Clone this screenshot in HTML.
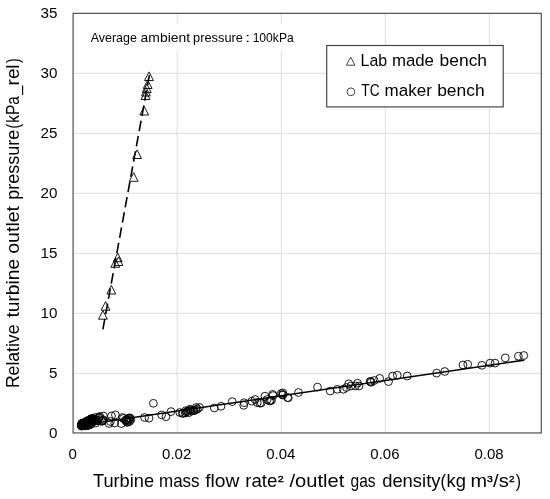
<!DOCTYPE html>
<html lang="en"><head><meta charset="utf-8"><title>Turbine outlet pressure chart</title>
<style>html,body{margin:0;padding:0;background:#fff;overflow:hidden}svg{display:block}text{font-family:"Liberation Sans",sans-serif;fill:#000}</style></head><body>
<svg width="550" height="499" viewBox="0 0 550 499">
<rect x="0" y="0" width="550" height="499" fill="#ffffff"/>
<path d="M177.2 13.35 V433.0 M281.3 13.35 V433.0 M385.4 13.35 V433.0 M489.5 13.35 V433.0 M73.1 373.3 H541.3 M73.1 313.3 H541.3 M73.1 253.3 H541.3 M73.1 193.3 H541.3 M73.1 133.3 H541.3 M73.1 73.3 H541.3" stroke="#dedede" stroke-width="1" fill="none"/>
<line x1="102.9" y1="329.3" x2="149.6" y2="74" stroke="#000" stroke-width="1.6" stroke-dasharray="10.5 5"/>
<line x1="80.5" y1="425.2" x2="524.3" y2="360.1" stroke="#000" stroke-width="1.6"/>
<path d="M149.0 71.9 L153.4 80.5 H144.6 Z M147.7 79.9 L152.1 88.5 H143.3 Z M146.8 83.9 L151.2 92.5 H142.4 Z M146.0 87.4 L150.4 96.0 H141.6 Z M145.5 90.9 L149.9 99.5 H141.1 Z M144.2 106.4 L148.6 115.0 H139.8 Z M137.1 149.9 L141.5 158.5 H132.7 Z M133.7 172.7 L138.1 181.3 H129.3 Z M117.7 253.1 L122.1 261.7 H113.3 Z M118.5 256.9 L122.9 265.5 H114.1 Z M115.3 258.7 L119.7 267.3 H110.9 Z M111.3 285.4 L115.7 294.0 H106.9 Z M105.6 301.6 L110.0 310.2 H101.2 Z M102.9 310.6 L107.3 319.2 H98.5 Z" stroke="#000" stroke-width="0.9" fill="none" stroke-linejoin="miter"/>
<g stroke="#000" stroke-width="0.9" fill="none"><circle cx="84.4" cy="422.5" r="3.9"/><circle cx="87.8" cy="420.5" r="3.9"/><circle cx="86.6" cy="422.6" r="3.9"/><circle cx="81.6" cy="425.1" r="3.9"/><circle cx="81.4" cy="424.9" r="3.9"/><circle cx="81.7" cy="423.5" r="3.9"/><circle cx="85.5" cy="425.3" r="3.9"/><circle cx="82.3" cy="423.7" r="3.9"/><circle cx="87.6" cy="425.4" r="3.9"/><circle cx="87.1" cy="422.6" r="3.9"/><circle cx="91.3" cy="418.7" r="3.9"/><circle cx="90.0" cy="420.8" r="3.9"/><circle cx="82.5" cy="423.2" r="3.9"/><circle cx="84.2" cy="425.6" r="3.9"/><circle cx="82.9" cy="425.0" r="3.9"/><circle cx="87.7" cy="422.2" r="3.9"/><circle cx="86.8" cy="421.0" r="3.9"/><circle cx="81.6" cy="424.0" r="3.9"/><circle cx="88.1" cy="422.3" r="3.9"/><circle cx="84.3" cy="424.5" r="3.9"/><circle cx="85.8" cy="422.6" r="3.9"/><circle cx="89.3" cy="423.5" r="3.9"/><circle cx="83.6" cy="424.7" r="3.9"/><circle cx="86.5" cy="425.2" r="3.9"/><circle cx="88.7" cy="421.3" r="3.9"/><circle cx="91.3" cy="419.1" r="3.9"/><circle cx="85.4" cy="425.0" r="3.9"/><circle cx="82.6" cy="424.7" r="3.9"/><circle cx="81.4" cy="425.8" r="3.9"/><circle cx="89.0" cy="422.8" r="3.9"/><circle cx="90.2" cy="420.8" r="3.9"/><circle cx="88.3" cy="423.2" r="3.9"/><circle cx="87.1" cy="422.9" r="3.9"/><circle cx="89.8" cy="424.8" r="3.9"/><circle cx="86.0" cy="424.3" r="3.9"/><circle cx="81.6" cy="425.8" r="3.9"/><circle cx="87.8" cy="425.6" r="3.9"/><circle cx="89.6" cy="420.9" r="3.9"/><circle cx="85.1" cy="424.6" r="3.9"/><circle cx="81.2" cy="425.1" r="3.9"/><circle cx="82.8" cy="423.1" r="3.9"/><circle cx="81.6" cy="426.1" r="3.9"/><circle cx="82.4" cy="423.8" r="3.9"/><circle cx="85.1" cy="425.6" r="3.9"/><circle cx="81.8" cy="424.8" r="3.9"/><circle cx="86.8" cy="425.2" r="3.9"/><circle cx="101.7" cy="421.4" r="3.9"/><circle cx="94.6" cy="420.1" r="3.9"/><circle cx="95.7" cy="423.0" r="3.9"/><circle cx="103.5" cy="416.1" r="3.9"/><circle cx="93.3" cy="419.2" r="3.9"/><circle cx="94.0" cy="420.7" r="3.9"/><circle cx="98.7" cy="418.1" r="3.9"/><circle cx="91.1" cy="421.0" r="3.9"/><circle cx="95.8" cy="420.9" r="3.9"/><circle cx="103.4" cy="419.8" r="3.9"/><circle cx="97.7" cy="420.7" r="3.9"/><circle cx="99.8" cy="416.4" r="3.9"/><circle cx="102.7" cy="420.6" r="3.9"/><circle cx="102.4" cy="420.8" r="3.9"/><circle cx="96.1" cy="419.6" r="3.9"/><circle cx="92.3" cy="422.2" r="3.9"/><circle cx="91.8" cy="418.5" r="3.9"/><circle cx="93.7" cy="418.6" r="3.9"/><circle cx="95.4" cy="417.5" r="3.9"/><circle cx="91.0" cy="419.2" r="3.9"/><circle cx="92.3" cy="420.3" r="3.9"/><circle cx="91.3" cy="424.1" r="3.9"/><circle cx="99.0" cy="417.2" r="3.9"/><circle cx="94.3" cy="419.7" r="3.9"/><circle cx="153.4" cy="403.3" r="3.9"/><circle cx="111.5" cy="416.0" r="3.9"/><circle cx="115.4" cy="414.9" r="3.9"/><circle cx="110.4" cy="421.5" r="3.9"/><circle cx="114.7" cy="423.0" r="3.9"/><circle cx="122.4" cy="417.5" r="3.9"/><circle cx="121.3" cy="423.6" r="3.9"/><circle cx="126.3" cy="419.7" r="3.9"/><circle cx="127.2" cy="422.5" r="3.9"/><circle cx="130.0" cy="418.2" r="3.9"/><circle cx="128.5" cy="420.4" r="3.9"/><circle cx="125.5" cy="420.2" r="3.9"/><circle cx="127.6" cy="421.8" r="3.9"/><circle cx="129.8" cy="418.0" r="3.9"/><circle cx="130.9" cy="419.6" r="3.9"/><circle cx="123.3" cy="418.5" r="3.9"/><circle cx="109.1" cy="423.5" r="3.9"/><circle cx="144.6" cy="417.5" r="3.9"/><circle cx="149.0" cy="418.2" r="3.9"/><circle cx="161.6" cy="414.9" r="3.9"/><circle cx="166.0" cy="416.7" r="3.9"/><circle cx="171.0" cy="411.6" r="3.9"/><circle cx="179.8" cy="412.5" r="3.9"/><circle cx="183.1" cy="413.2" r="3.9"/><circle cx="186.4" cy="412.0" r="3.9"/><circle cx="188.5" cy="412.8" r="3.9"/><circle cx="190.7" cy="410.0" r="3.9"/><circle cx="194.0" cy="410.8" r="3.9"/><circle cx="196.2" cy="407.6" r="3.9"/><circle cx="199.5" cy="407.4" r="3.9"/><circle cx="197.3" cy="409.2" r="3.9"/><circle cx="214.3" cy="408.0" r="3.9"/><circle cx="221.0" cy="406.3" r="3.9"/><circle cx="232.2" cy="401.6" r="3.9"/><circle cx="244.2" cy="402.7" r="3.9"/><circle cx="243.7" cy="405.3" r="3.9"/><circle cx="251.8" cy="401.2" r="3.9"/><circle cx="255.1" cy="399.5" r="3.9"/><circle cx="257.3" cy="402.7" r="3.9"/><circle cx="259.9" cy="403.2" r="3.9"/><circle cx="264.9" cy="396.2" r="3.9"/><circle cx="267.1" cy="399.5" r="3.9"/><circle cx="270.4" cy="400.5" r="3.9"/><circle cx="272.6" cy="394.4" r="3.9"/><circle cx="281.2" cy="393.6" r="3.9"/><circle cx="282.8" cy="392.9" r="3.9"/><circle cx="282.6" cy="394.7" r="3.9"/><circle cx="287.6" cy="397.6" r="3.9"/><circle cx="298.5" cy="392.5" r="3.9"/><circle cx="317.5" cy="387.1" r="3.9"/><circle cx="330.2" cy="391.0" r="3.9"/><circle cx="337.2" cy="389.3" r="3.9"/><circle cx="343.3" cy="389.3" r="3.9"/><circle cx="346.5" cy="387.5" r="3.9"/><circle cx="348.7" cy="383.8" r="3.9"/><circle cx="350.9" cy="386.0" r="3.9"/><circle cx="355.3" cy="386.0" r="3.9"/><circle cx="357.5" cy="383.2" r="3.9"/><circle cx="359.0" cy="386.0" r="3.9"/><circle cx="370.1" cy="381.6" r="3.9"/><circle cx="371.2" cy="382.3" r="3.9"/><circle cx="374.3" cy="380.5" r="3.9"/><circle cx="379.7" cy="378.4" r="3.9"/><circle cx="388.5" cy="381.6" r="3.9"/><circle cx="392.6" cy="376.1" r="3.9"/><circle cx="397.3" cy="375.2" r="3.9"/><circle cx="407.3" cy="376.0" r="3.9"/><circle cx="436.6" cy="373.1" r="3.9"/><circle cx="444.8" cy="371.5" r="3.9"/><circle cx="463.0" cy="365.0" r="3.9"/><circle cx="467.7" cy="364.3" r="3.9"/><circle cx="481.9" cy="365.3" r="3.9"/><circle cx="490.1" cy="363.1" r="3.9"/><circle cx="495.0" cy="363.1" r="3.9"/><circle cx="505.3" cy="357.9" r="3.9"/><circle cx="518.4" cy="356.2" r="3.9"/><circle cx="523.8" cy="355.5" r="3.9"/><circle cx="182.4" cy="413.4" r="3.9"/><circle cx="185.3" cy="413.0" r="3.9"/><circle cx="186.0" cy="410.6" r="3.9"/><circle cx="188.0" cy="411.0" r="3.9"/><circle cx="190.2" cy="409.2" r="3.9"/><circle cx="191.5" cy="411.2" r="3.9"/><circle cx="193.2" cy="410.2" r="3.9"/><circle cx="195.6" cy="409.8" r="3.9"/><circle cx="261.3" cy="402.9" r="3.9"/><circle cx="269.5" cy="401.0" r="3.9"/><circle cx="271.5" cy="400.4" r="3.9"/><circle cx="273.1" cy="395.6" r="3.9"/><circle cx="282.9" cy="395.0" r="3.9"/><circle cx="288.3" cy="397.8" r="3.9"/><circle cx="126.0" cy="420.8" r="3.9"/><circle cx="128.2" cy="419.2" r="3.9"/><circle cx="129.5" cy="421.5" r="3.9"/><circle cx="128.8" cy="418.0" r="3.9"/><circle cx="370.6" cy="381.4" r="3.9"/></g>
<rect x="73.1" y="13.35" width="468.2" height="419.6" fill="none" stroke="#484848" stroke-width="1.15"/>
<text x="57.4" y="437.7" font-size="15.2" text-anchor="end">0</text>
<text x="57.4" y="377.7" font-size="15.2" text-anchor="end">5</text>
<text x="57.4" y="317.7" font-size="15.2" text-anchor="end">10</text>
<text x="57.4" y="257.7" font-size="15.2" text-anchor="end">15</text>
<text x="57.4" y="197.7" font-size="15.2" text-anchor="end">20</text>
<text x="57.4" y="137.7" font-size="15.2" text-anchor="end">25</text>
<text x="57.4" y="77.7" font-size="15.2" text-anchor="end">30</text>
<text x="57.4" y="17.7" font-size="15.2" text-anchor="end">35</text>
<text x="72.6" y="458.9" font-size="15" text-anchor="middle">0</text>
<text x="176.7" y="458.9" font-size="15" text-anchor="middle">0.02</text>
<text x="280.8" y="458.9" font-size="15" text-anchor="middle">0.04</text>
<text x="384.9" y="458.9" font-size="15" text-anchor="middle">0.06</text>
<text x="489.0" y="458.9" font-size="15" text-anchor="middle">0.08</text>
<rect x="84" y="24" width="222" height="27" fill="#ffffff"/>
<text x="90.70" y="42.0" font-size="12.6" textLength="46.18" lengthAdjust="spacingAndGlyphs">Average</text>
<text x="140.64" y="42.0" font-size="12.6" textLength="49.46" lengthAdjust="spacingAndGlyphs">ambient</text>
<text x="193.10" y="42.0" font-size="12.6" textLength="49.82" lengthAdjust="spacingAndGlyphs">pressure</text>
<text x="245.09" y="42.0" font-size="12.6" textLength="5.28" lengthAdjust="spacingAndGlyphs">:</text>
<text x="252.63" y="42.0" font-size="12.6" textLength="41.09" lengthAdjust="spacingAndGlyphs">100kPa</text>
<rect x="326.7" y="45.5" width="176.5" height="61.4" fill="#fff" stroke="#404040" stroke-width="1.15"/>
<path d="M350.65 57.0 L354.9 65.2 H346.4 Z" fill="none" stroke="#222" stroke-width="0.85"/>
<circle cx="350.9" cy="91.8" r="3.9" fill="none" stroke="#222" stroke-width="0.85"/>
<text x="360.53" y="66.1" font-size="17.4" textLength="26.59" lengthAdjust="spacingAndGlyphs">Lab</text>
<text x="391.92" y="66.1" font-size="17.4" textLength="42.08" lengthAdjust="spacingAndGlyphs">made</text>
<text x="439.58" y="66.1" font-size="17.4" textLength="47.45" lengthAdjust="spacingAndGlyphs">bench</text>
<text x="361.22" y="96.4" font-size="17.4" textLength="18.37" lengthAdjust="spacingAndGlyphs">TC</text>
<text x="384.61" y="96.4" font-size="17.4" textLength="47.20" lengthAdjust="spacingAndGlyphs">maker</text>
<text x="437.18" y="96.4" font-size="17.4" textLength="47.45" lengthAdjust="spacingAndGlyphs">bench</text>
<text x="92.94" y="486.6" font-size="17.9" textLength="61.16" lengthAdjust="spacingAndGlyphs">Turbine</text>
<text x="159.01" y="486.6" font-size="17.9" textLength="40.55" lengthAdjust="spacingAndGlyphs">mass</text>
<text x="205.21" y="486.6" font-size="17.9" textLength="34.26" lengthAdjust="spacingAndGlyphs">flow</text>
<text x="245.20" y="486.6" font-size="17.9" textLength="32.11" lengthAdjust="spacingAndGlyphs">rate</text>
<text x="289.50" y="486.6" font-size="17.9" textLength="54.88" lengthAdjust="spacingAndGlyphs">/outlet</text>
<text x="350.48" y="486.6" font-size="17.9" textLength="25.13" lengthAdjust="spacingAndGlyphs">gas</text>
<text x="382.16" y="486.6" font-size="17.9" textLength="58.29" lengthAdjust="spacingAndGlyphs">density</text>
<text x="440.41" y="486.6" font-size="17.9" textLength="5.51" lengthAdjust="spacingAndGlyphs">(</text>
<text x="446.61" y="486.6" font-size="17.9" textLength="19.40" lengthAdjust="spacingAndGlyphs">kg</text>
<text x="470.41" y="486.6" font-size="17.9" textLength="16.54" lengthAdjust="spacingAndGlyphs">m</text>
<text x="493.10" y="486.6" font-size="17.9" textLength="15.77" lengthAdjust="spacingAndGlyphs">/s</text>
<text x="515.84" y="486.6" font-size="17.9" textLength="5.25" lengthAdjust="spacingAndGlyphs">)</text>
<text x="277.67" y="482.1" font-size="9.6" textLength="5.93" lengthAdjust="spacingAndGlyphs" stroke="#000" stroke-width="0.4">2</text>
<text x="486.98" y="482.1" font-size="9.6" textLength="5.80" lengthAdjust="spacingAndGlyphs" stroke="#000" stroke-width="0.4">3</text>
<text x="509.00" y="482.1" font-size="9.6" textLength="5.56" lengthAdjust="spacingAndGlyphs" stroke="#000" stroke-width="0.4">2</text>
<g transform="translate(19 0) rotate(-90)">
<text x="-388.11" y="0" font-size="17.9" textLength="63.56" lengthAdjust="spacingAndGlyphs">Relative</text>
<text x="-317.58" y="0" font-size="17.9" textLength="58.70" lengthAdjust="spacingAndGlyphs">turbine</text>
<text x="-253.78" y="0" font-size="17.9" textLength="47.81" lengthAdjust="spacingAndGlyphs">outlet</text>
<text x="-199.76" y="0" font-size="17.9" textLength="70.09" lengthAdjust="spacingAndGlyphs">pressure</text>
<text x="-128.43" y="0" font-size="17.9" textLength="4.61" lengthAdjust="spacingAndGlyphs">(</text>
<text x="-122.67" y="0" font-size="17.9" textLength="26.32" lengthAdjust="spacingAndGlyphs">kPa</text>
<text x="-94.87" y="0" font-size="17.9" textLength="9.05" lengthAdjust="spacingAndGlyphs">_</text>
<text x="-85.42" y="0" font-size="17.9" textLength="20.98" lengthAdjust="spacingAndGlyphs">rel</text>
<text x="-62.94" y="0" font-size="17.9" textLength="4.61" lengthAdjust="spacingAndGlyphs">)</text>
</g>
</svg></body></html>
